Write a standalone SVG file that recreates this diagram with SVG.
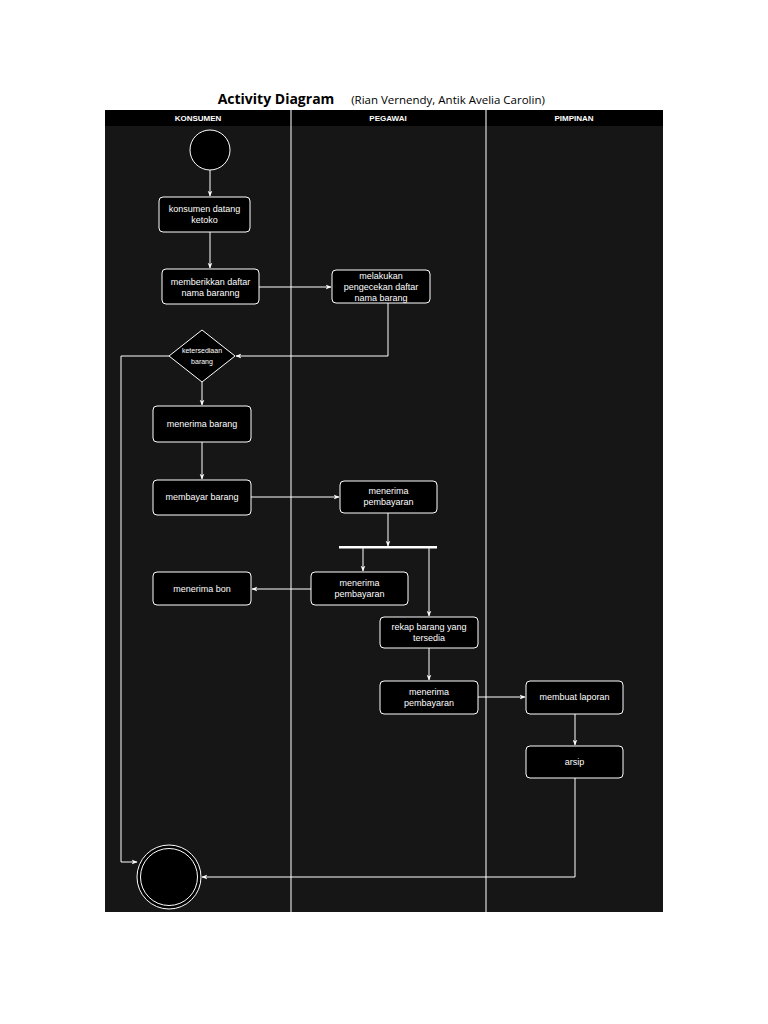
<svg xmlns="http://www.w3.org/2000/svg" width="768" height="1024" viewBox="0 0 768 1024">
<defs>
<marker id="a" viewBox="0 0 10 10" refX="9" refY="5" markerWidth="6" markerHeight="6" orient="auto"><path d="M0,1 L10,5 L0,9 L3,5 Z" fill="#fff"/></marker>
<style>
.n{fill:#000;stroke:#fff;stroke-width:1}
.t{fill:#fff;font-family:"Liberation Sans",Arial,sans-serif;font-size:9px;text-anchor:middle}
.h{fill:#fff;font-family:"Liberation Sans",Arial,sans-serif;font-size:8px;font-weight:bold;text-anchor:middle}
.c{fill:none;stroke:#fff;stroke-width:1;marker-end:url(#a)}
</style>
</defs>
<rect width="768" height="1024" fill="#fff"/>
<text x="276" y="104" font-family="'Open Sans',sans-serif" font-size="14" font-weight="bold" text-anchor="middle" fill="#000">Activity Diagram</text>
<text x="448" y="104" font-family="'Open Sans',sans-serif" font-size="11.5" text-anchor="middle" fill="#000">(Rian Vernendy, Antik Avelia Carolin)</text>
<rect x="105" y="110" width="558" height="802" fill="#161616"/>
<rect x="105" y="110" width="558" height="16" fill="#000"/>
<g stroke="#ddd" stroke-width="1.2"><line x1="291" y1="110" x2="291" y2="912"/><line x1="486" y1="110" x2="486" y2="912"/></g>
<text class="h" x="198" y="121">KONSUMEN</text>
<text class="h" x="388" y="121">PEGAWAI</text>
<text class="h" x="574" y="121">PIMPINAN</text>
<g id="connectors">
<path class="c" d="M210,170 V196"/>
<path class="c" d="M210,232 V268"/>
<path class="c" d="M259,287 H331"/>
<path class="c" d="M388,303 V356 H236"/>
<path class="c" d="M169,356 H121 V862 H137"/>
<path class="c" d="M202,382 V405"/>
<path class="c" d="M202,442 V479"/>
<path class="c" d="M251,497 H339"/>
<path class="c" d="M388,513 V546"/>
<path class="c" d="M363,548 V571"/>
<path class="c" d="M429,548 V616"/>
<path class="c" d="M311,589 H252"/>
<path class="c" d="M429,648 V680"/>
<path class="c" d="M478,697 H525"/>
<path class="c" d="M575,714 V745"/>
<path class="c" d="M575,778 V877 H202"/>
</g>
<g id="start"><circle class="n" cx="210" cy="150" r="20"/></g>
<g id="n1"><rect class="n" x="159" y="197" width="91" height="35" rx="4"/><text class="t" x="204.5" y="212">konsumen datang</text><text class="t" x="204.5" y="223">ketoko</text></g>
<g id="n2"><rect class="n" x="162" y="269" width="97" height="35" rx="4"/><text class="t" x="210.5" y="285">memberikkan daftar</text><text class="t" x="210.5" y="296">nama baranng</text></g>
<g id="n3"><rect class="n" x="332" y="270" width="98" height="33" rx="4"/><text class="t" x="381" y="279">melakukan</text><text class="t" x="381" y="290">pengecekan daftar</text><text class="t" x="381" y="301">nama barang</text></g>
<g id="d1"><path class="n" d="M202,330 L235,356 L202,382 L169,356 Z"/><text class="t" style="font-size:7px" x="202" y="353">ketersediaan</text><text class="t" style="font-size:7px" x="202" y="364">barang</text></g>
<g id="n4"><rect class="n" x="153" y="406" width="98" height="36" rx="4"/><text class="t" x="202" y="427">menerima barang</text></g>
<g id="n5"><rect class="n" x="153" y="480" width="98" height="35" rx="4"/><text class="t" x="202" y="500">membayar barang</text></g>
<g id="n6"><rect class="n" x="340" y="481" width="97" height="32" rx="4"/><text class="t" x="388.5" y="494">menerima</text><text class="t" x="388.5" y="505">pembayaran</text></g>
<g id="fork"><rect x="339" y="546" width="98" height="2.5" fill="#fff"/></g>
<g id="n7"><rect class="n" x="311" y="572" width="97" height="33" rx="4"/><text class="t" x="359.5" y="586">menerima</text><text class="t" x="359.5" y="597">pembayaran</text></g>
<g id="n8"><rect class="n" x="153" y="572" width="98" height="33" rx="4"/><text class="t" x="202" y="592">menerima bon</text></g>
<g id="n9"><rect class="n" x="380" y="617" width="98" height="31" rx="4"/><text class="t" x="429" y="630">rekap barang yang</text><text class="t" x="429" y="641">tersedia</text></g>
<g id="n10"><rect class="n" x="380" y="681" width="98" height="33" rx="4"/><text class="t" x="429" y="695">menerima</text><text class="t" x="429" y="706">pembayaran</text></g>
<g id="n11"><rect class="n" x="526" y="681" width="97" height="33" rx="4"/><text class="t" x="574.5" y="700">membuat laporan</text></g>
<g id="n12"><rect class="n" x="526" y="746" width="97" height="32" rx="4"/><text class="t" x="574.5" y="765">arsip</text></g>
<g id="end"><circle class="n" cx="169" cy="877" r="32"/><circle cx="169" cy="877" r="28.5" fill="#000" stroke="#fff"/></g>
</svg>
